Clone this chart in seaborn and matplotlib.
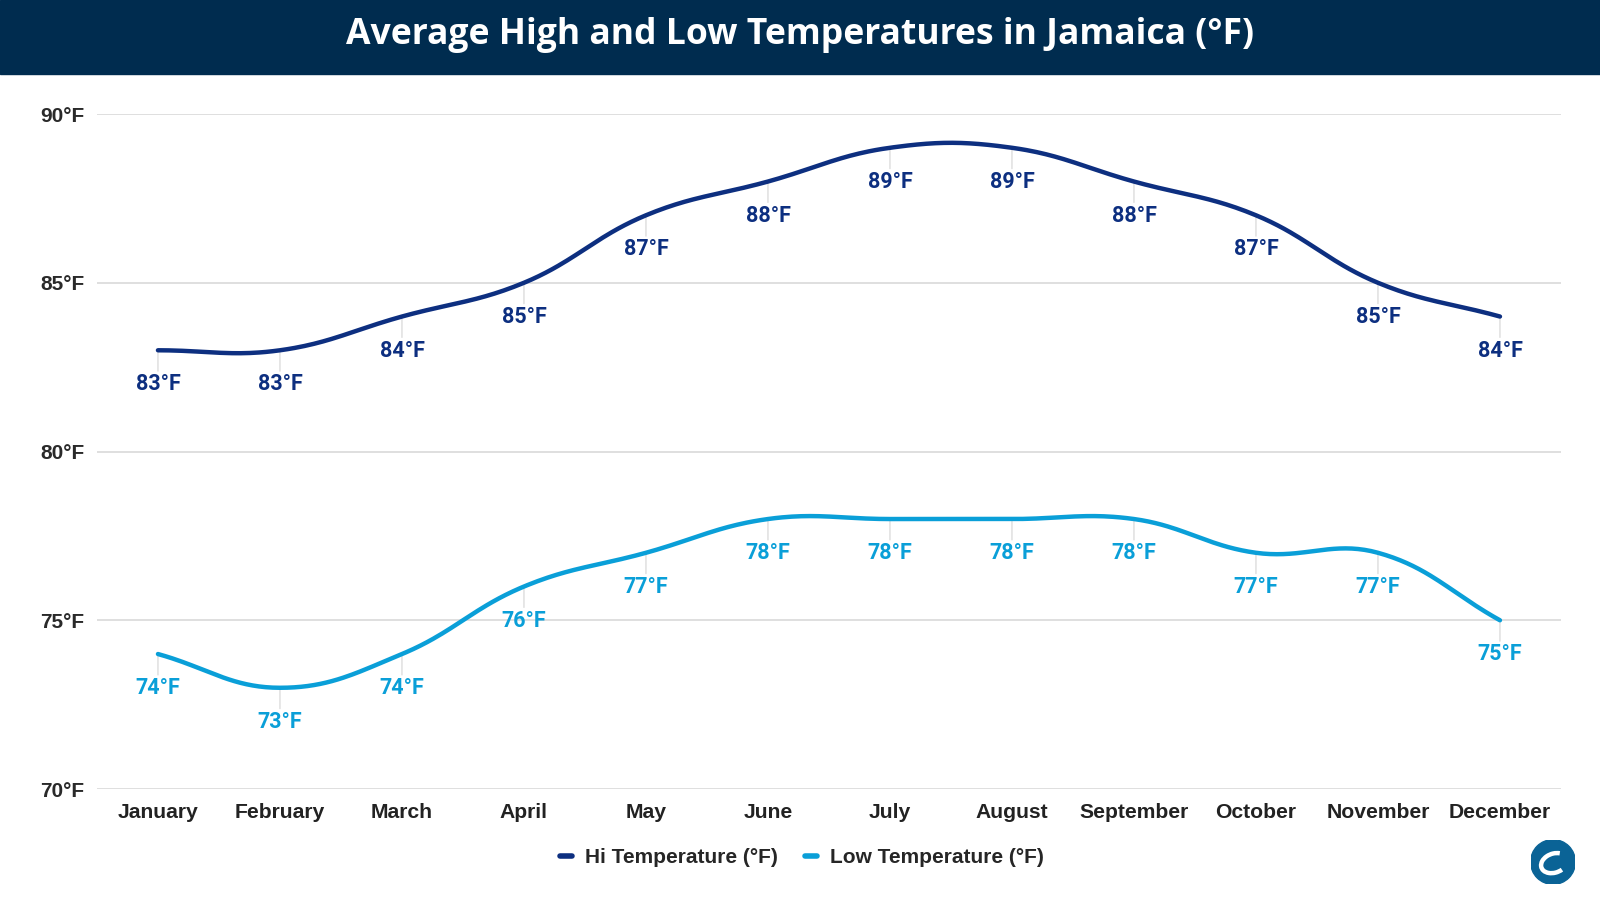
import numpy as np
import pandas as pd
import seaborn as sns
import matplotlib.pyplot as plt
from matplotlib.lines import Line2D
from matplotlib.patches import Rectangle, Circle, Arc

# data
months = ['January', 'February', 'March', 'April', 'May', 'June', 'July',
          'August', 'September', 'October', 'November', 'December']
hi_temp = [83, 83, 84, 85, 87, 88, 89, 89, 88, 87, 85, 84]
low_temp = [74, 73, 74, 76, 77, 78, 78, 78, 78, 77, 77, 75]
y_ticks = [70, 75, 80, 85, 90]

HI_COLOR = '#0d2f80'
LOW_COLOR = '#0a9fd8'
BAR_COLOR = '#002c4f'

sns.set_theme(style='white')
plt.rcParams['font.family'] = ['Liberation Sans', 'DejaVu Sans']


def smooth(values, tension=0.4, sx=122.0, sy=33.75, n=40):
    # chart.js style bezier curve through the points (pixel-ish units)
    pts = np.column_stack([np.arange(len(values)) * sx, np.array(values, float) * sy])
    cps = []
    for i in range(len(pts)):
        p = pts[max(i - 1, 0)]
        m = pts[i]
        nx = pts[min(i + 1, len(pts) - 1)]
        d01 = np.hypot(*(m - p))
        d12 = np.hypot(*(nx - m))
        tot = d01 + d12
        s01 = d01 / tot if tot else 0
        s12 = d12 / tot if tot else 0
        cps.append((m - tension * s01 * (nx - p), m + tension * s12 * (nx - p)))
    xs, ys = [], []
    t = np.linspace(0, 1, n)[:, None]
    for i in range(len(pts) - 1):
        p0, p3 = pts[i], pts[i + 1]
        c1, c2 = cps[i][1], cps[i + 1][0]
        seg = ((1 - t) ** 3) * p0 + 3 * ((1 - t) ** 2) * t * c1 + 3 * (1 - t) * t ** 2 * c2 + t ** 3 * p3
        xs.extend(seg[:, 0] / sx)
        ys.extend(seg[:, 1] / sy)
    return np.array(xs), np.array(ys)


fig = plt.figure(figsize=(16, 9), dpi=100)
ax = fig.add_axes([0.0606, 0.1233, 0.915, 0.75])

hx, hy = smooth(hi_temp)
lx, ly = smooth(low_temp)
curves = pd.concat([
    pd.DataFrame({'x': hx, 'y': hy, 'series': 'Hi Temperature (°F)'}),
    pd.DataFrame({'x': lx, 'y': ly, 'series': 'Low Temperature (°F)'}),
])
sns.lineplot(data=curves, x='x', y='y', hue='series', sort=False,
             palette=[HI_COLOR, LOW_COLOR], linewidth=3.2, legend=False,
             ax=ax, zorder=3)

# data labels with small leader lines
for vals, color in [(hi_temp, HI_COLOR), (low_temp, LOW_COLOR)]:
    for i, v in enumerate(vals):
        ax.annotate('', xy=(i, v), xytext=(0, -15), textcoords='offset points',
                    arrowprops=dict(arrowstyle='-', color='#dcdcdc', lw=1,
                                    shrinkA=0, shrinkB=0), zorder=2)
        ax.annotate(f'{v}°F', xy=(i, v), xytext=(0, -24.5), textcoords='offset points',
                    ha='center', va='center', fontsize=15.5, fontweight='bold',
                    color=color, family=['Roboto', 'DejaVu Sans'], zorder=4)

ax.set_xlim(-0.5, 11.5)
ax.set_ylim(70, 90)
ax.set_xticks(range(len(months)))
ax.set_xticklabels(months, fontsize=15.2, fontweight='bold', color='#222222')
ax.set_yticks(y_ticks)
ax.set_yticklabels([f'{v}°F' for v in y_ticks], fontsize=15, fontweight='bold', color='#2a2a2a')
ax.tick_params(axis='x', length=0, pad=10)
ax.tick_params(axis='y', length=0, pad=9)
ax.grid(axis='y', color='#d9d9d9', linewidth=1.2)
ax.set_xlabel('')
ax.set_ylabel('')
for s in ax.spines.values():
    s.set_visible(False)

# legend
handles = [Line2D([0], [0], color=HI_COLOR, lw=4),
           Line2D([0], [0], color=LOW_COLOR, lw=4)]
fig.legend(handles, ['Hi Temperature (°F)', 'Low Temperature (°F)'],
           loc='center', bbox_to_anchor=(0.501, 0.047), ncol=2, frameon=False,
           handlelength=0.6, handletextpad=0.6, columnspacing=1.3,
           prop={'weight': 'bold', 'size': 15})

# title bar
fig.patches.append(Rectangle((0, 1 - 74 / 900), 1, 74 / 900, transform=fig.transFigure,
                             color=BAR_COLOR, zorder=0))
fig.text(0.5, 1 - 35 / 900, 'Average High and Low Temperatures in Jamaica (°F)',
         ha='center', va='center', color='white', fontsize=25.6, fontweight='bold',
         family=['Open Sans', 'DejaVu Sans'])

# little logo in the corner
lax = fig.add_axes([1553 / 1600 - 0.014, 1 - 862 / 900 - 0.025, 0.028, 0.05])
lax.set_xlim(-1, 1)
lax.set_ylim(-1, 1)
lax.set_aspect('equal')
lax.axis('off')
lax.add_patch(Circle((0, 0), 1, color='#0a6396'))
lax.add_patch(Arc((0.05, -0.05), 1.2, 0.85, angle=20, theta1=40, theta2=300,
                  color='white', lw=3.2))

fig.savefig('out.png', dpi=100)
